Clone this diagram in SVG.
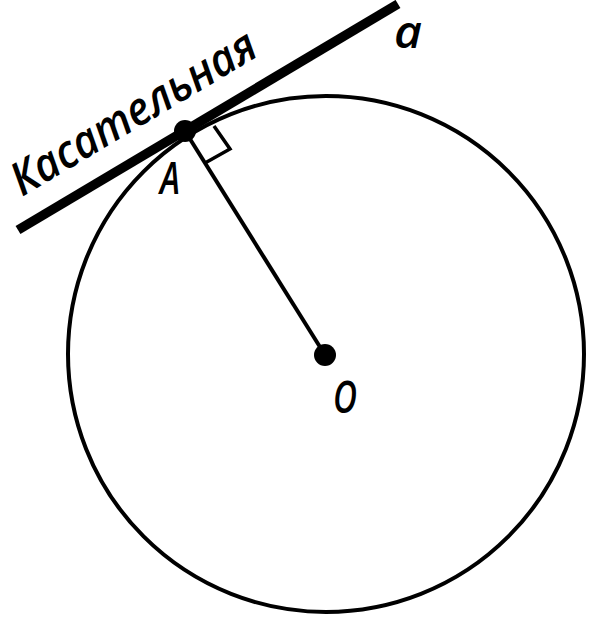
<svg xmlns="http://www.w3.org/2000/svg" width="612" height="632" viewBox="0 0 612 632">
  <style>
    .ln { stroke: #000; fill: none; }
    .lbl { font-family: "Open Sans", "Noto Sans", "Liberation Sans", sans-serif; font-style: italic; font-size: 46px; font-weight: 600; fill: #000; }
  </style>
  <rect x="0" y="0" width="612" height="632" fill="#fff"/>
  <g id="circle">
    <circle class="ln" cx="326" cy="354" r="258" stroke-width="4"/>
  </g>
  <g id="tangent-line">
    <line class="ln" x1="18" y1="230" x2="398" y2="4" stroke-width="9.5"/>
  </g>
  <g id="radius">
    <line class="ln" x1="185" y1="131" x2="325" y2="355" stroke-width="4"/>
    <polyline class="ln" points="205,163 230,149 214,126" stroke-width="3.5" stroke-linejoin="miter"/>
  </g>
  <g id="point-A">
    <circle cx="185" cy="131" r="11" fill="#000"/>
  </g>
  <g id="point-O">
    <circle cx="325" cy="355" r="11" fill="#000"/>
  </g>
  <g id="labels">
    <text class="lbl" transform="translate(22,197) rotate(-30.8)" x="0" y="0" font-size="47" textLength="278" lengthAdjust="spacingAndGlyphs">Касательная</text>
    <text class="lbl" x="160" y="194" textLength="20" lengthAdjust="spacingAndGlyphs">A</text>
    <text class="lbl" x="394" y="48" textLength="28" lengthAdjust="spacingAndGlyphs">a</text>
    <text class="lbl" x="333" y="413" textLength="24" lengthAdjust="spacingAndGlyphs">O</text>
  </g>
</svg>
